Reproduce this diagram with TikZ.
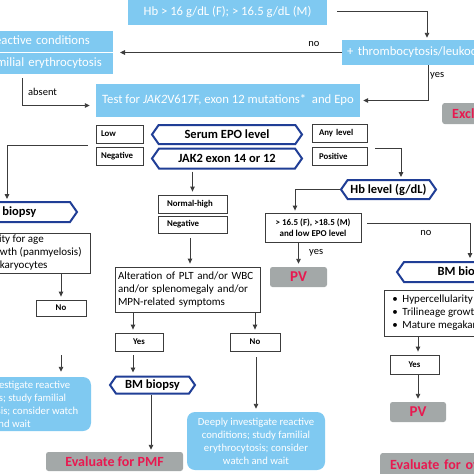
\documentclass[tikz,border=0pt]{standalone}
\usepackage{fontspec}
\setmainfont{Carlito}
\usetikzlibrary{arrows.meta,shapes.symbols,calc}
\definecolor{lblue}{RGB}{127,201,241}
\definecolor{navy}{RGB}{32,62,150}
\definecolor{gbox}{RGB}{163,168,168}
\definecolor{rtxt}{RGB}{232,25,80}
\definecolor{ln}{RGB}{60,60,60}
\begin{document}
\begin{tikzpicture}[x=1pt,y=-1pt,
 bluebox/.style={fill=lblue,text=white,inner sep=0pt,font=\fontsize{12.7}{14}\selectfont},
 roundbox/.style={fill=lblue,text=white,rounded corners=8pt,inner sep=0pt,align=center,font=\fontsize{10.7}{13}\selectfont},
 greybox/.style={fill=gbox,text=rtxt,rounded corners=2.5pt,inner sep=0pt,font=\bfseries\fontsize{14}{16}\selectfont},
 wbox/.style={draw=ln,line width=0.8pt,fill=white,inner sep=0pt,font=\bfseries\fontsize{8.8}{11}\selectfont},
 plainbox/.style={draw=ln,line width=0.8pt,fill=white,inner sep=0pt,align=left,font=\fontsize{11}{13}\selectfont},
 hexa/.style={draw=navy,line width=2pt,fill=white,shape=signal,signal to=west and east,signal pointer angle=110,inner sep=0pt,font=\bfseries\fontsize{12.5}{14}\selectfont},
 conn/.style={draw=ln,line width=0.9pt},
 arr/.style={conn,-{Triangle[length=5pt,width=4.5pt]}},
 lbl/.style={font=\fontsize{10.5}{12}\selectfont,inner sep=0pt}
]
\useasboundingbox (0,0) rectangle (474,474);
\clip (0,0) rectangle (474,474);
\fill[white] (0,0) rectangle (474,474);

% top row
\node[bluebox,minimum width=199pt,minimum height=27pt] (hb) at (227.5,11.5) {Hb > 16 g/dL (F); > 16.5 g/dL (M)};
\node[bluebox,anchor=west,minimum height=25pt,text width=220pt,align=left,inner xsep=5pt] (thr) at (342,52.5) {+ thrombocytosis/leukocytosis};
\node[bluebox,anchor=east,minimum height=21pt,text width=194pt,align=right,inner xsep=23pt] (lr) at (113,41.5) {Investigate reactive conditions};
\node[bluebox,anchor=east,minimum height=21pt,text width=218pt,align=right,inner xsep=11pt] (lf) at (113,63.5) {Study familial erythrocytosis};
\node[bluebox,minimum width=264pt,minimum height=33pt] (test) at (228,100.5) {Test for \textit{JAK2}V617F, exon 12 mutations*\ \ and Epo};
\node[greybox,anchor=west,minimum height=21pt,text width=110pt,align=left,inner xsep=10pt] (excl) at (442,113.5) {Exclude PV};

% second row
\node[hexa,minimum width=150pt,minimum height=19pt] (epo) at (227,134.5) {Serum EPO level};
\node[hexa,minimum width=150pt,minimum height=20pt] (jak) at (227,158.5) {JAK2 exon 14 or 12};
\node[wbox,minimum height=18pt,text width=37pt,align=left,inner xsep=5pt] (low) at (119.5,134) {Low};
\node[wbox,minimum height=18pt,text width=37pt,align=left,inner xsep=5pt] (neg1) at (119.5,156) {Negative};
\node[wbox,minimum height=18pt,text width=41pt,align=left,inner xsep=7pt] (any) at (339.5,133.5) {Any level};
\node[wbox,minimum height=18pt,text width=41pt,align=left,inner xsep=7pt] (pos) at (339.5,156) {Positive};

% left column
\node[hexa,minimum width=136pt,minimum height=20pt] (bml) at (9,212) {BM biopsy};
\node[plainbox,anchor=east,minimum height=40pt,inner xsep=9pt] (crl) at (91,253) {\makebox[10pt][l]{\textbullet}Hypercellularity for age\\\makebox[10pt][l]{\textbullet}Trilineage growth (panmyelosis)\\\makebox[10pt][l]{\textbullet}Mature megakaryocytes};
\node[wbox,minimum width=50pt,minimum height=16pt] (no1) at (61,308) {No};
\node[roundbox,minimum width=158pt,minimum height=54pt] (dl) at (12,404) {Deeply investigate reactive\\conditions; study familial\\erythrocytosis; consider watch\\and wait};

% middle column
\node[wbox,minimum height=18pt,text width=51pt,align=left,inner xsep=9pt] (nh) at (192.5,204) {Normal-high};
\node[wbox,minimum height=17pt,text width=51pt,align=left,inner xsep=9pt] (neg2) at (192.5,224.5) {Negative};
\node[plainbox,minimum height=45pt,text width=139pt,inner xsep=3pt] (alt) at (187.5,289.5) {Alteration of PLT and/or WBC\\and/or splenomegaly and/or\\MPN-related symptoms};
\node[wbox,minimum width=48pt,minimum height=18pt] (yes1) at (139,342) {Yes};
\node[wbox,minimum width=50pt,minimum height=18pt] (no2) at (255,342) {No};
\node[hexa,minimum width=85pt,minimum height=17pt] (bmm) at (152.5,385) {BM biopsy};
\node[greybox,minimum width=137pt,minimum height=19pt] (pmf) at (114.5,461.5) {Evaluate for PMF};
\node[roundbox,minimum width=138pt,minimum height=58pt] (dr) at (256,441) {Deeply investigate reactive\\conditions; study familial\\erythrocytosis; consider\\watch and wait};

% right column
\node[hexa,minimum width=95pt,minimum height=19pt] (hbl) at (388.5,189.5) {Hb level (g/dL)};
\node[wbox,minimum width=96pt,minimum height=29pt,align=center,font=\bfseries\fontsize{9}{11.5}\selectfont] (crit) at (313,227.5) {> 16.5 (F), >18.5 (M)\\and low EPO level};
\node[greybox,minimum width=57pt,minimum height=20pt,font=\bfseries\fontsize{15}{17}\selectfont] (pv1) at (298.5,277) {PV};
\node[hexa,minimum width=136pt,minimum height=20pt] (bmr) at (465,272) {BM biopsy};
\node[plainbox,anchor=west,minimum height=46pt,inner xsep=8pt] (crr) at (384,313) {\makebox[10pt][l]{\textbullet}Hypercellularity for age\\\makebox[10pt][l]{\textbullet}Trilineage growth (panmyelosis)\\\makebox[10pt][l]{\textbullet}Mature megakaryocytes};
\node[wbox,minimum width=49pt,minimum height=19pt] (yes2) at (414.5,364.5) {Yes};
\node[greybox,minimum width=56pt,minimum height=20pt,font=\bfseries\fontsize{15}{17}\selectfont] (pv2) at (418,412) {PV};
\node[greybox,anchor=west,minimum height=24pt,text width=150pt,align=left,inner xsep=10pt] (oth) at (380,465) {Evaluate for other MPN};

% labels
\node[lbl] (lno1) at (314,44) {no};
\node[lbl,anchor=west] (labs) at (28,92) {absent};
\node[lbl,anchor=west] (lyes1) at (430,76) {yes};
\node[lbl] (lno2) at (426,233) {no};
\node[lbl,anchor=west] (lyes2) at (309,253) {yes};

% connectors
\draw[arr] ($(hb.east)+(10,0)$) -| ($(thr.north west)+(85,-2)$);
\draw[arr] (thr.west) -- ($(thr.west -| lr.east)+(7,0)$);
\draw[arr] ($(lf.south east)+(-91,4)$) |- ($(test.west)+(-6,5)$);
\draw[arr] ($(thr.south west)+(86,0)$) |- ($(test.east)+(3,0)$);
\draw[arr] ($(low.south west)+(-8,2)$) -| ($(bml.north)+(-2,-2)$);
\draw[arr] ($(nh.north |- jak.south)+(0,2)$) -- ($(nh.north)+(0,-3)$);
\draw[arr] ($(neg2.south)+(-2.5,5)$) -- ($(neg2.south |- alt.north)+(-2.5,-3)$);
\draw[arr] ($(pos.east)+(8,-8)$) -| ($(hbl.north)+(12.5,-2)$);
\draw[arr] (hbl.west) -| ($(crit.north)+(-18,-2)$);
\draw[arr] ($(crit.east)+(6,-4.5)$) -| ($(bmr.north)+(5,-3)$);
\draw[arr] (pv1.north |- crit.south) -- ($(pv1.north)+(0,-3)$);
\draw[arr] (crl.south -| no1.north) -- ($(no1.north)+(0,-3)$);
\draw[arr] ($(no1.south)+(0,39)$) -- ($(no1.south |- dl.north)+(0,-5)$);
\draw[arr] ($(alt.south -| yes1.north)+(-6,0)$) -- ($(yes1.north)+(-6,-3)$);
\draw[arr] (alt.south -| no2.north) -- ($(no2.north)+(0,-3)$);
\draw[arr] ($(yes1.south)+(-6,4)$) -- ($(yes1.south |- bmm.north)+(-6,-3)$);
\draw[arr] ($(bmm.south)+(-1.5,0)$) -- ($(bmm.south |- pmf.north)+(-1.5,-2)$);
\draw[arr] ($(no2.south)+(1,6)$) -- ($(no2.south |- dr.north)+(1,-3)$);
\draw[arr] ($(crr.south -| yes2.north)+(3.5,0)$) -- ($(yes2.north)+(3.5,-3)$);
\draw[arr] ($(yes2.south)+(3.5,0)$) -- ($(yes2.south |- pv2.north)+(3.5,-3)$);
\end{tikzpicture}
\end{document}
